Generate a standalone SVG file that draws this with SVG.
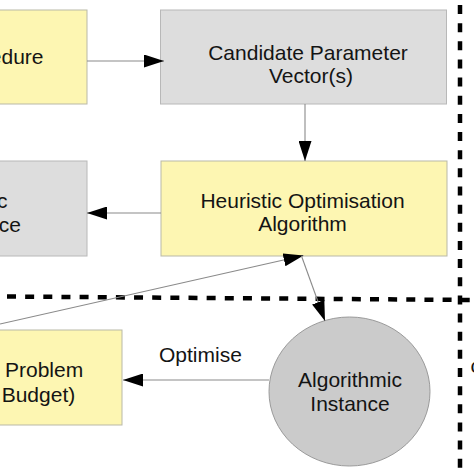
<svg xmlns="http://www.w3.org/2000/svg" width="474" height="474" viewBox="0 0 474 474">
<style>
.yel{fill:#fdf6b2;stroke:#b9b9a8;stroke-width:1}
.gry{fill:#dddddd;stroke:#b8b8b8;stroke-width:1}
.t{font-family:"Liberation Sans",Arial,sans-serif;font-size:21px;fill:#141414}
.c{text-anchor:middle}
.e{text-anchor:end}
.con{stroke:#8a8a8a;stroke-width:1.1;fill:none}
.dash{stroke:#000;stroke-width:4.5;fill:none;stroke-dasharray:9 9.15}
</style>
<defs>
<marker id="ah" markerUnits="userSpaceOnUse" markerWidth="20" markerHeight="13" refX="20" refY="6.5" orient="auto">
<path d="M0,0 L20,6.5 L0,13 z" fill="#000"/>
</marker>
</defs>
<rect width="474" height="474" fill="#fff"/>
<g id="separators">
<line class="dash" x1="460" y1="5" x2="460" y2="474"/>
<line class="dash" x1="7" y1="296.5" x2="474" y2="300"/>
</g>
<g id="procedure">
<rect class="yel" x="-5" y="10" width="92" height="94"/>
<text class="t e" x="43.5" y="64">edure</text>
</g>
<g id="candidate">
<rect class="gry" x="160.5" y="10" width="286" height="94"/>
<text class="t c" x="308" y="60">Candidate Parameter</text>
<text class="t c" x="311" y="83">Vector(s)</text>
</g>
<g id="left-instance">
<rect class="gry" x="-5" y="161" width="92" height="95"/>
<text class="t e" x="7.5" y="208">c</text>
<text class="t e" x="21" y="232">ce</text>
</g>
<g id="heuristic">
<rect class="yel" x="161" y="161" width="286" height="95"/>
<text class="t c" x="302.5" y="208">Heuristic Optimisation</text>
<text class="t c" x="302.5" y="231">Algorithm</text>
</g>
<g id="problem">
<rect class="yel" x="-5" y="330" width="127" height="95"/>
<text class="t" x="5" y="377">Problem</text>
<text class="t" x="1.7" y="401.5">Budget)</text>
</g>
<g id="algorithmic-instance">
<ellipse cx="349.5" cy="391.5" rx="80.5" ry="74.5" fill="#cbcbcb" stroke="#9a9a9a" stroke-width="1"/>
<text class="t c" x="350" y="387">Algorithmic</text>
<text class="t c" x="350" y="411">Instance</text>
</g>
<g id="right-fragment">
<text class="t" x="470.5" y="373">c</text>
</g>
<g id="connectors">
<line class="con" x1="87" y1="61" x2="164" y2="61" marker-end="url(#ah)"/>
<line class="con" x1="305" y1="104" x2="305" y2="161" marker-end="url(#ah)"/>
<line class="con" x1="161" y1="213" x2="87" y2="213" marker-end="url(#ah)"/>
<line class="con" x1="269" y1="380" x2="123" y2="380" marker-end="url(#ah)"/>
<line class="con" x1="0" y1="324" x2="303.5" y2="255.5" marker-end="url(#ah)"/>
<line class="con" x1="301.5" y1="256" x2="325" y2="321" marker-end="url(#ah)"/>
<text class="t" x="159" y="361.5">Optimise</text>
</g>
</svg>
